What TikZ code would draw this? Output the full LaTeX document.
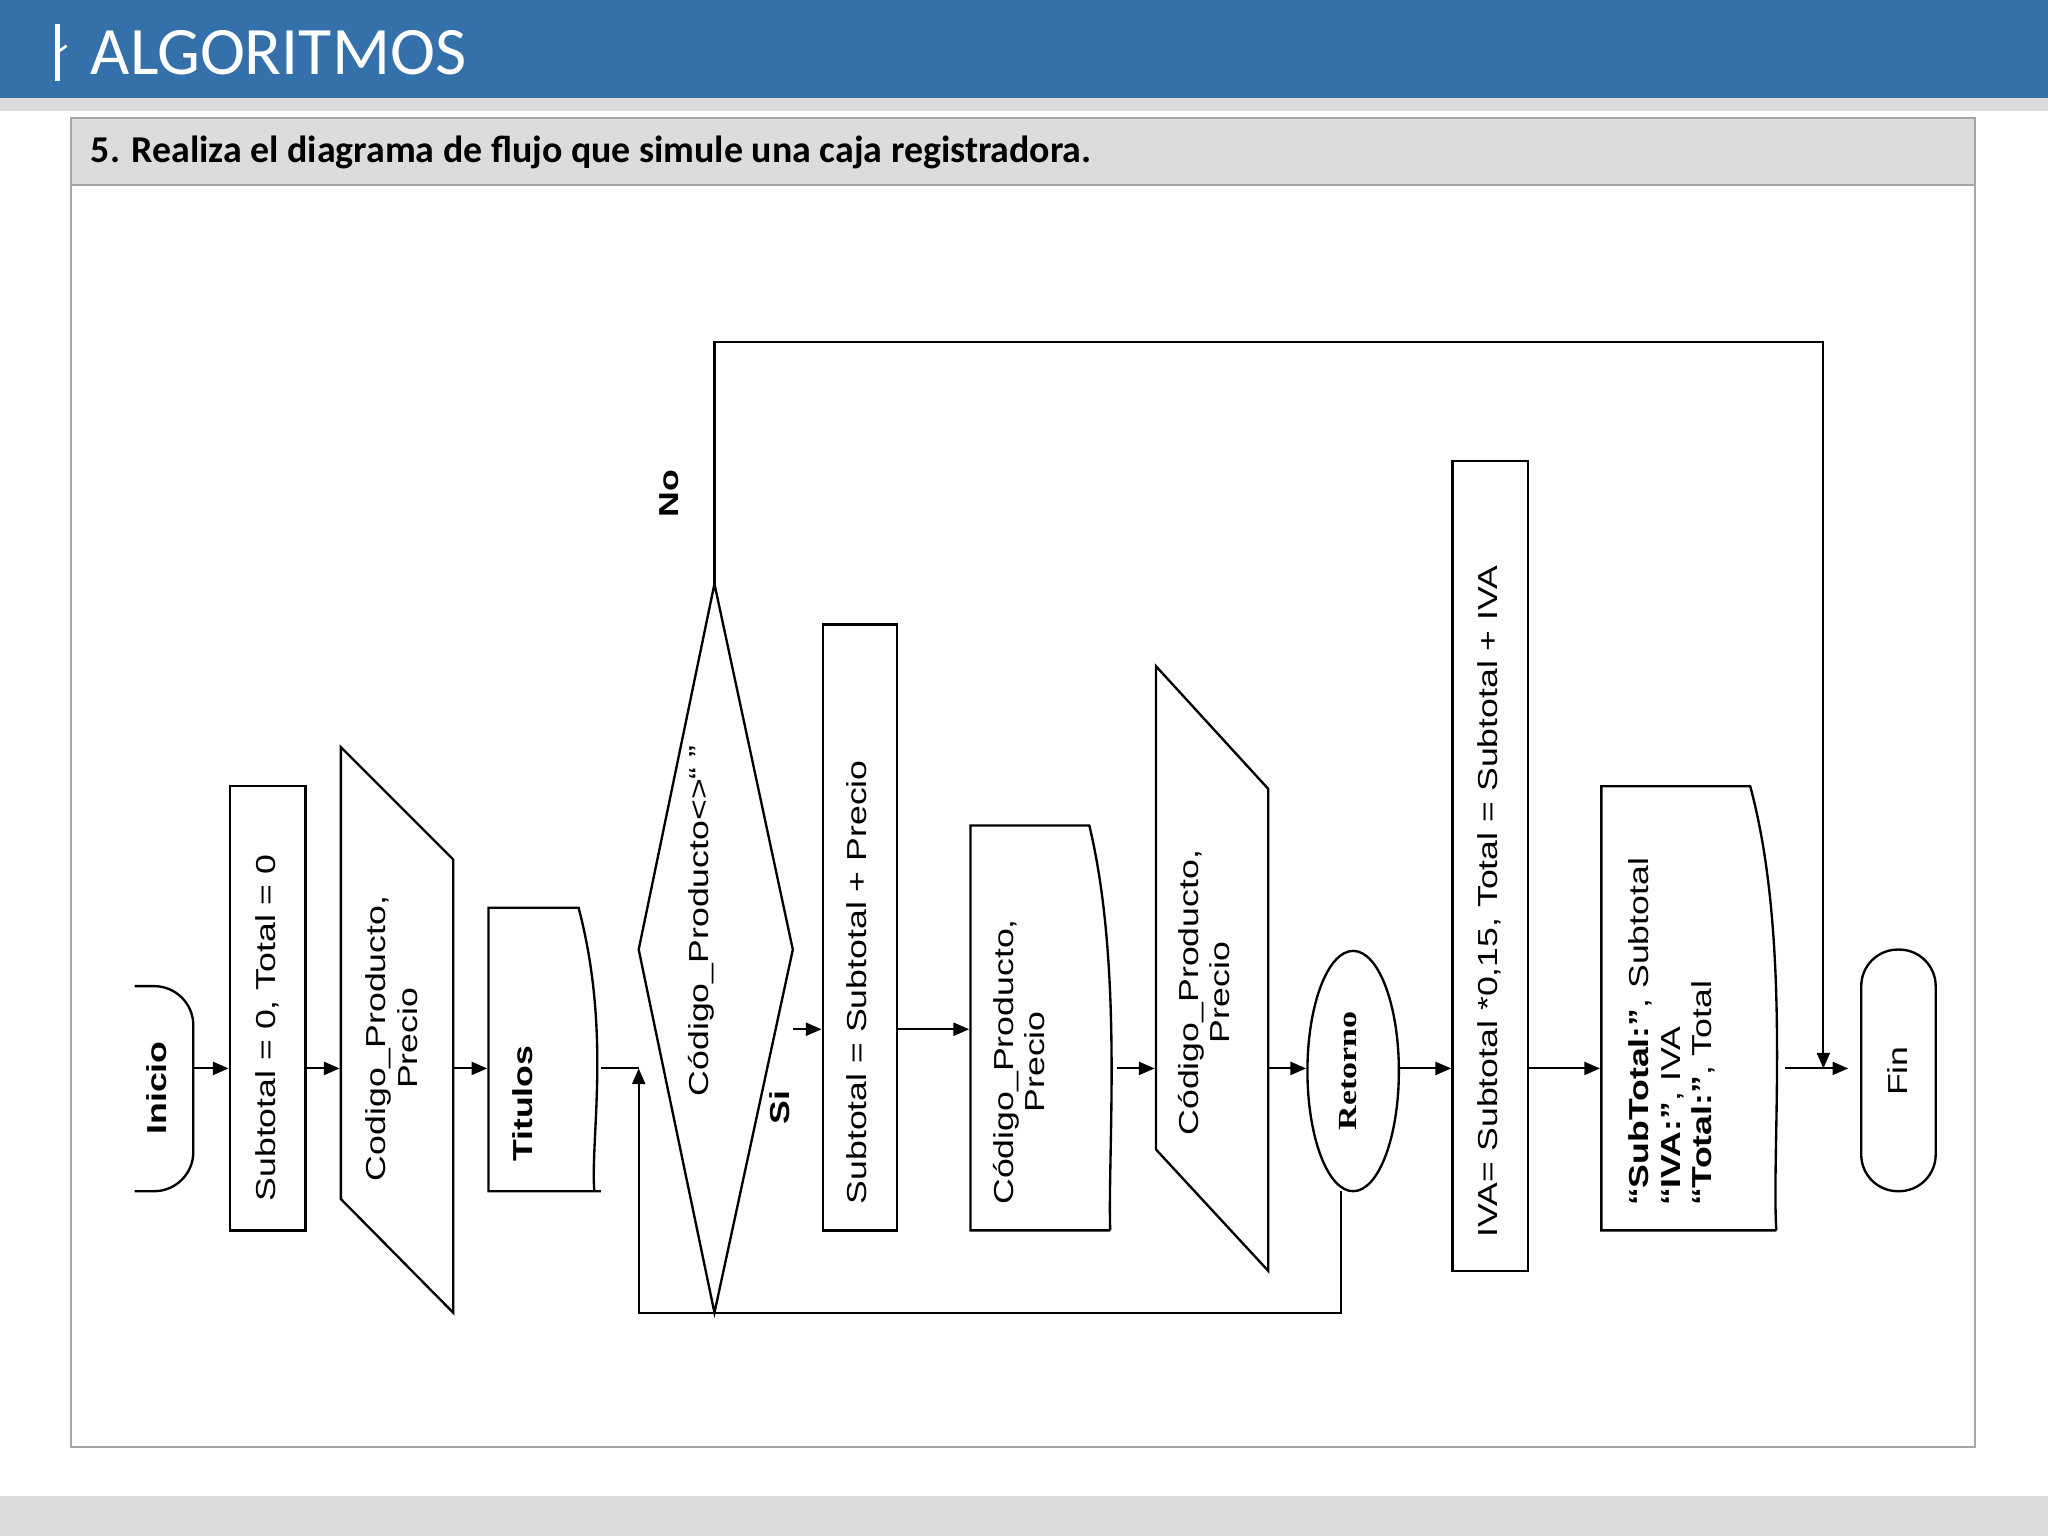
\documentclass[tikz,border=0pt]{standalone}
\usepackage{fontspec}
\setmainfont{Liberation Sans}
\newfontfamily\calfnt{Carlito}
\newfontfamily\serf{Liberation Serif}
\usetikzlibrary{arrows.meta,shapes.geometric}
\definecolor{hdr}{RGB}{52,112,170}
\definecolor{lg}{RGB}{220,220,222}
\begin{document}
\begin{tikzpicture}[x=1pt,y=-1pt,
 box/.style={draw,line width=1.8pt,fill=white},
 ln/.style={line width=1.6pt},
 arr/.style={ln,-{Triangle[length=12pt,width=10pt]}},
 rt/.style={rotate=90,xscale=1.3,font=\fontsize{21}{24}\selectfont,align=center}]
\useasboundingbox (0,0) rectangle (1568,1176);
\fill[white] (0,0) rectangle (1568,1176);
\fill[hdr] (0,0) rectangle (1568,75);
\fill[lg] (0,75) rectangle (1568,85);
\fill[lg] (0,1145) rectangle (1568,1176);
\draw[white,line width=4pt] (44,18)--(44,62);
\draw[white,line width=2pt] (44,40)--(51,35);
\node[anchor=west,text=white,font=\calfnt\fontsize{52}{56}\selectfont] (title) at (66,40) {ALGORITMOS};
\draw[gray!70,line width=1.5pt,fill=lg] (54,90) rectangle (1512,142);
\draw[gray!70,line width=1.5pt] (54,142) rectangle (1512,1108);
\node[anchor=west,font=\calfnt\bfseries\fontsize{29}{32}\selectfont] (q) at (66,117) {5. Realiza el diagrama de flujo que simule una caja registradora.};
% Inicio (clipped at left)
\begin{scope}
\clip (103,740) rectangle (160,930);
\draw[box] (103,755) -- (118,755) arc[start angle=-90,end angle=0,radius=30] -- (148,882) arc[start angle=0,end angle=90,radius=30] -- (103,912);
\end{scope}
\node[rt,font=\bfseries\fontsize{21}{24}\selectfont] (ini) at (120,833) {Inicio};
\draw[box] (176,602) rectangle (234,942);
\node[rt] (s0) at (205,787) {Subtotal = 0, Total = 0};
\draw[box] (261,572) -- (347,658) -- (347,1005) -- (261,918) -- cycle;
\node[rt] (p1) at (300,795) {Codigo\_Producto,\\Precio};
\draw[box] (460,912) -- (374,912) -- (374,695) -- (443,695) .. controls (468,790) and (452,870) .. (455,912);
\node[rt,font=\bfseries\fontsize{21}{24}\selectfont] (tit) at (400,845) {Titulos};
\draw[box] (547,447) -- (607,727) -- (547,1005) -- (489,727) -- cycle;
\node[rt] (dec) at (537,705) {Código\_Producto<>“ ”};
\node[rt,font=\bfseries\fontsize{21}{24}\selectfont] (no) at (512,378) {No};
\node[rt,font=\bfseries\fontsize{21}{24}\selectfont] (si) at (597,848) {Si};
\draw[box] (630,478) rectangle (687,942);
\node[rt] (s1) at (656,752) {Subtotal = Subtotal + Precio};
\draw[box] (850,942) -- (743,942) -- (743,632) -- (834,632) .. controls (860,740) and (848,880) .. (850,942);
\node[rt] (p2) at (780,813) {Código\_Producto,\\Precio};
\draw[box] (885,510) -- (971,604) -- (971,973) -- (885,880) -- cycle;
\node[rt] (p3) at (922,760) {Código\_Producto,\\Precio};
\draw[box] (1036,820) ellipse[x radius=35,y radius=92];
\node[rt,font=\serf\bfseries\fontsize{20}{23}\selectfont] (ret) at (1032,820) {Retorno};
\draw[box] (1112,353) rectangle (1170,973);
\node[rt] (iva) at (1140,690) {IVA= Subtotal *0,15, Total = Subtotal + IVA};
\draw[box] (1360,942) -- (1226,942) -- (1226,602) -- (1340,602) .. controls (1372,720) and (1356,880) .. (1360,942);
\node[rt,align=left] (out) at (1280,790) {\textbf{“SubTotal:”}, Subtotal\\\textbf{“IVA:”}, IVA\\\textbf{“Total:”}, Total};
\draw[box,rounded corners=28pt] (1425,727) rectangle (1482,912);
\node[rt] (fin) at (1453,820) {Fin};
% connectors
\draw[arr] (148,818) -- (175,818);
\draw[arr] (234,818) -- (260,818);
\draw[arr] (347,818) -- (373,818);
\draw[ln] (460,818) -- (489,818);
\draw[arr] (1027,912) -- (1027,1005) -- (489,1005) -- (489,818);
\draw[arr] (547,447) -- (547,262) -- (1396,262) -- (1396,818);
\draw[arr] (607,788) -- (629,788);
\draw[arr] (687,788) -- (742,788);
\draw[arr] (855,818) -- (884,818);
\draw[arr] (971,818) -- (1000,818);
\draw[arr] (1070,818) -- (1111,818);
\draw[arr] (1170,818) -- (1225,818);
\draw[arr] (1367,818) -- (1415,818);
\end{tikzpicture}
\end{document}
